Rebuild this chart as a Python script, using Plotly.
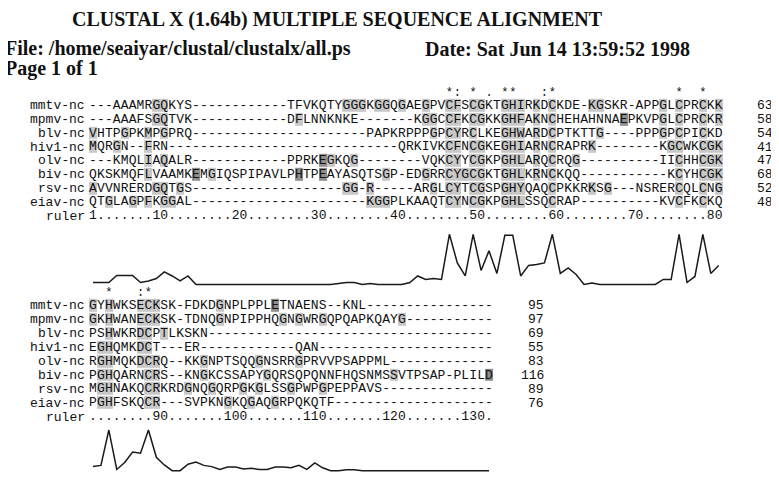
"""
Clustal X (1.64b) alignment page of eight retroviral NC sequences,
redrawn with Plotly: shaded residues, conservation line, ruler and
the alignment quality curve under each block.
"""

import plotly.graph_objects as go

W, H = 779, 481
PAGE = 8       # px the browser body margin pushes the figure right/down
X0 = 93.0      # page px centre of alignment column 1
CELL = 7.92    # px per alignment column
MONO = "Liberation Mono, Courier New, monospace"
SERIF = "Liberation Serif, Times New Roman, serif"

# ---------- data ----------

NAMES = ["mmtv-nc", "mpmv-nc", "blv-nc", "hiv1-nc",
         "olv-nc", "biv-nc", "rsv-nc", "eiav-nc"]

# columns 1-80
SEQ1 = [
    "---AAAMRGQKYS------------TFVKQTYGGGKGGQGAEGPVCFSCGKTGHIRKDCKDE-KGSKR-APPGLCPRCKK",
    "---AAAFSGQTVK------------DFLNNKNKE-------KGGCCFKCGKKGHFAKNCHEHAHNNAEPKVPGLCPRCKR",
    "VHTPGPKMPGPRQ----------------------PAPKRPPPGPCYRCLKEGHWARDCPTKTTG----PPPGPCPICKD",
    "MQRGN--FRN-----------------------------QRKIVKCFNCGKEGHIARNCRAPRK--------KGCWKCGK",
    "---KMQLIAQALR------------PPRKEGKQG--------VQKCYYCGKPGHLARQCRQG----------IICHHCGK",
    "QKSKMQFLVAAMKEMGIQSPIPAVLPHTPEAYASQTSGP-EDGRRCYGCGKTGHLKRNCKQQ-----------KCYHCGK",
    "AVVNRERDGQTGS-------------------GG-R-----ARGLCYTCGSPGHYQAQCPKKRKSG---NSRERCQLCNG",
    "QTGLAGPFKGGAL----------------------KGGPLKAAQTCYNCGKPGHLSSQCRAP----------KVCFKCKQ",
]
# columns 81-131
SEQ2 = [
    "GYHWKSECKSK-FDKDGNPLPPLETNAENS--KNL----------------",
    "GKHWANECKSK-TDNQGNPIPPHQGNGWRGQPQAPKQAYG-----------",
    "PSHWKRDCPTLKSKN------------------------------------",
    "EGHQMKDCT---ER------------QAN----------------------",
    "RGHMQKDCRQ--KKGNPTSQQGNSRRGPRVVPSAPPML-------------",
    "PGHQARNCRS--KNGKCSSAPYGQRSQPQNNFHQSNMSSVTPSAP-PLILD",
    "MGHNAKQCRKRDGNQGQRPGKGLSSGPWPGPEPPAVS--------------",
    "PGHFSKQCR---SVPKNGKQGAQGRPQKQTF--------------------",
]
END1 = [63, 58, 54, 41, 47, 68, 52, 48]
END2 = [95, 97, 69, 55, 83, 116, 89, 76]

CONS1 = ("                                             "
         "*: * . **   :*               *  *  ")
CONS2 = "  *   :*"
RULER1 = "1.......10........20........30........40........50........60........70........80"
RULER2 = "........90.......100.......110.......120.......130."

# alignment quality curve, 0-100, one value per column
QUAL1 = [4, 4, 4, 18, 18, 18, 4, 7, 12, 25, 17, 7, 17,
         0, 0, 0, 0, 0, 0, 0, 0, 0, 0, 0, 0, 0, 0, 0, 0, 0, 0,
         2, 4, 4, 0, 2, 0, 0, 0, 0, 4, 17, 10, 12, 10,
         100, 43, 17, 100, 28, 67, 22, 98, 98, 17, 38, 40, 43, 100, 22, 33, 20,
         0, 3, 0, 0, 0, 0, 0, 0, 0, 0,
         10, 10, 100, 4, 16, 100, 22, 38]
QUAL2 = [10, 13, 100, 3, 20, 46, 43, 100, 33, 14, 0, 0, 16, 21, 13, 10, 3,
         9, 9, 4, 6, 3, 3, 9, 9, 7, 13, 3, 19, 7, 0, 0, 2, 2, 0,
         0, 0, 0, 0, 0, 0, 0, 0, 0, 0, 0, 0, 0, 0, 0, 0]

# alignment columns (1-131) printed on a grey background, per sequence
LIGHT = [
    [9, 10, 33, 34, 35, 37, 38, 40, 43, 46, 47, 49, 50, 53, 54, 55, 57, 59, 64, 65,
     73, 75, 78, 80, 81, 83, 87, 88, 89, 97],
    [9, 10, 27, 43, 44, 46, 47, 49, 50, 53, 54, 55, 57, 59, 73, 75, 78, 80,
     81, 83, 87, 88, 89, 97, 105, 107, 110, 120],
    [1, 5, 8, 10, 44, 46, 47, 49, 53, 54, 55, 57, 59, 65, 73, 75, 78, 83, 87, 88, 90],
    [1, 4, 8, 46, 47, 49, 50, 53, 54, 55, 57, 59, 64, 74, 75, 78, 79, 80, 82, 83, 87, 88],
    [8, 10, 31, 34, 46, 47, 49, 50, 53, 54, 55, 57, 59, 62, 75, 78, 79, 80,
     82, 83, 87, 88, 89, 95, 102, 107],
    [8, 16, 38, 43, 46, 47, 48, 49, 50, 53, 54, 55, 57, 59, 75, 78, 79, 80,
     82, 83, 88, 89, 95, 103, 119],
    [1, 9, 10, 12, 33, 34, 36, 44, 46, 47, 49, 50, 53, 54, 55, 59, 64, 66, 75, 78, 80,
     82, 83, 88, 89, 93, 96, 100, 102, 106, 110],
    [3, 6, 8, 10, 11, 36, 37, 38, 46, 47, 49, 50, 53, 54, 55, 59, 75, 78,
     82, 83, 88, 89, 98, 101, 104],
]
DARK = [[104], [68], [], [], [30], [14, 27, 30, 131], [], []]


# ---------- helpers ----------

def py(px):
    """page pixel (from top of the window) -> paper fraction"""
    return 1 - (px - PAGE) / H


def col(px):
    """page pixel (from left of the window) -> alignment column units"""
    return 1 + (px - X0) / CELL


def shade_matrix(first, ncols):
    z = [[None] * ncols for _ in NAMES]
    for r in range(len(NAMES)):
        for level, cols in ((1, LIGHT[r]), (2, DARK[r])):
            for c in cols:
                if first <= c < first + ncols:
                    z[r][c - first] = level
    return z


def block_chars(seqs, ruler):
    xs, ys, ts = [], [], []
    for r, s in enumerate(seqs):
        for j, ch in enumerate(s):
            xs.append(j + 1); ys.append(r); ts.append(ch)
    for j, ch in enumerate(ruler):
        xs.append(j + 1); ys.append(8); ts.append(ch)
    return xs, ys, ts


# ---------- figure ----------

fig = go.Figure()

blocks = [
    (SEQ1, CONS1, RULER1, END1, 1, "y", "y3", QUAL1),
    (SEQ2, CONS2, RULER2, END2, 81, "y2", "y4", QUAL2),
]
grey = [[0, "#c8c8c8"], [0.5, "#c8c8c8"], [0.5, "#8e8e8e"], [1, "#8e8e8e"]]
label_font = dict(family=MONO, size=13, color="#111")

for seqs, cons, ruler, ends, first, ya, yq, qual in blocks:
    ncols = len(seqs[0])
    fig.add_trace(go.Heatmap(
        z=shade_matrix(first, ncols), x=list(range(1, ncols + 1)),
        y=list(range(len(NAMES))), zmin=1, zmax=2, colorscale=grey,
        showscale=False, ygap=1, hoverinfo="skip", yaxis=ya))
    xs, ys, ts = block_chars(seqs, ruler)
    fig.add_trace(go.Scatter(
        x=xs, y=ys, text=ts, mode="text", yaxis=ya, hoverinfo="skip",
        textfont=label_font))
    # conservation line above the block
    cx = [j + 1 for j, ch in enumerate(cons) if ch != " "]
    fig.add_trace(go.Scatter(
        x=cx, y=[-0.95] * len(cx), text=[cons[j - 1] for j in cx],
        mode="text", yaxis=ya, hoverinfo="skip",
        textfont=dict(family=MONO, size=12, color="#111")))
    fig.add_trace(go.Scatter(
        x=list(range(1, len(qual) + 1)), y=qual, mode="lines", yaxis=yq,
        line=dict(color="#1a1a1a", width=1.5), hoverinfo="skip"))
    for r, name in enumerate(NAMES + ["ruler"]):
        fig.add_annotation(x=col(87), y=r, xref="x", yref=ya, text=name,
                           xanchor="right", showarrow=False, font=label_font)
    for r, n in enumerate(ends):
        fig.add_annotation(x=ncols + 7.15, y=r, xref="x", yref=ya, text=str(n),
                           xanchor="right", showarrow=False, font=label_font)

# page header
header = [
    ("CLUSTAL X (1.64b) MULTIPLE SEQUENCE ALIGNMENT", 70, 19),
    ("File: /home/seaiyar/clustal/clustalx/all.ps", 3, 49),
    ("Date: Sat Jun 14 13:59:52 1998", 423, 49),
    ("Page 1 of 1", 3, 69),
]
for text, x, y in header:
    fig.add_annotation(x=(x - PAGE) / W, y=py(y), xref="paper", yref="paper",
                       text=text, xanchor="left", yanchor="middle", showarrow=False,
                       font=dict(family=SERIF, size=20, color="#111", weight="bold"))

hidden = dict(visible=False, showgrid=False, zeroline=False, fixedrange=True)
fig.update_layout(
    width=W, height=H, margin=dict(l=0, r=0, t=0, b=0),
    paper_bgcolor="white", plot_bgcolor="white", showlegend=False,
    xaxis=dict(range=[col(PAGE), col(PAGE + W)], domain=[0, 1], **hidden),
    # text rows: -1 conservation, 0-7 sequences, 8 ruler
    yaxis=dict(range=[8.5, -1.5], domain=[py(222.9), py(85.0)], anchor="x", **hidden),
    yaxis2=dict(range=[8.5, -1.5], domain=[py(424.0), py(284.9)], anchor="x", **hidden),
    # quality curves
    yaxis3=dict(range=[-3, 103], domain=[py(286.0), py(232.8)], anchor="x", **hidden),
    yaxis4=dict(range=[-4, 104], domain=[py(472.3), py(428.4)], anchor="x", **hidden),
)

fig.write_html("out.html")
